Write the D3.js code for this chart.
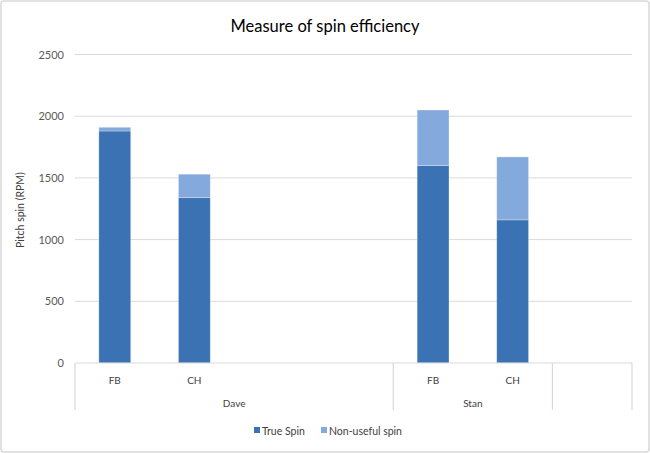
<!DOCTYPE html>
<html>
<head>
<meta charset="utf-8">
<script src="https://cdn.jsdelivr.net/npm/d3@7"></script>
<style>
  body { margin: 0; background: #fff; }
  text { font-family: Lato, "Open Sans", sans-serif; }
</style>
</head>
<body>
<div id="chart"></div>
<script>
// chart data
const slots = ["Dave FB", "Dave CH", "Dave gap1", "Dave gap2", "Stan FB", "Stan CH", "end gap"];
const pitchLabels = ["FB", "CH", "", "", "FB", "CH", ""];
const groupNames = ["Dave", "Stan", ""];
const groupSpans = [4, 2, 1];
const trueSpin = [1880, 1340, 0, 0, 1600, 1160, 0];
const nonUseful = [30, 190, 0, 0, 450, 510, 0];
const seriesNames = ["True Spin", "Non-useful spin"];
const yTicks = [0, 500, 1000, 1500, 2000, 2500];

const W = 650, H = 453;
const colors = ["#3a72b3", "#84a9dc"];

/**
 * setupSVG() puts an svg with a white background into the page
 */
function setupSVG(id, width, height) {
  const svg = d3.select(id).append("svg")
    .attr("width", width)
    .attr("height", height);
  svg.append("rect")
    .attr("x", 1).attr("y", 1)
    .attr("width", width - 2).attr("height", height - 2)
    .attr("rx", 3)
    .attr("fill", "#fff")
    .attr("stroke", "#d9d9d9")
    .attr("stroke-width", 1.5);
  return svg;
}

const svg = setupSVG("#chart", W, H);

const x = d3.scaleBand()
  .domain(slots)
  .range([75, 632])
  .paddingInner(0.6)
  .paddingOuter(0.3);

const y = d3.scaleLinear()
  .domain([0, 2500])
  .range([363, 54.5]);

// gridlines
svg.append("g")
  .selectAll("line")
  .data(yTicks.filter(d => d > 0))
  .enter().append("line")
  .attr("x1", 75).attr("x2", 632)
  .attr("y1", d => y(d)).attr("y2", d => y(d))
  .attr("stroke", "#d9d9d9")
  .attr("stroke-width", 1);

// y axis labels
const yAxis = svg.append("g")
  .attr("transform", "translate(75,0)")
  .call(d3.axisLeft(y).tickValues(yTicks).tickFormat(d3.format("d")).tickSize(0).tickPadding(11));
yAxis.select(".domain").remove();
yAxis.selectAll("text")
  .attr("font-family", "Lato, 'Open Sans', sans-serif")
  .attr("font-size", 11)
  .attr("fill", "#595959");

// stacked bars
const table = slots.map((s, i) => ({ slot: s, "True Spin": trueSpin[i], "Non-useful spin": nonUseful[i] }));
const stacked = d3.stack().keys(seriesNames)(table);

svg.append("g")
  .selectAll("g")
  .data(stacked)
  .enter().append("g")
  .attr("fill", (d, i) => colors[i])
  .selectAll("rect")
  .data(d => d.filter(p => p[1] > p[0]))
  .enter().append("rect")
  .attr("x", d => x(d.data.slot))
  .attr("width", x.bandwidth())
  .attr("y", d => y(d[1]))
  .attr("height", d => y(d[0]) - y(d[1]))
  .attr("stroke", "#ffffff")
  .attr("stroke-opacity", 0.35)
  .attr("stroke-width", 0.8);

// category axis, two levels
const axisG = svg.append("g");
axisG.append("line")
  .attr("x1", 75).attr("x2", 632)
  .attr("y1", y(0)).attr("y2", y(0))
  .attr("stroke", "#d9d9d9")
  .attr("stroke-width", 1.2);

axisG.selectAll("text.pitch")
  .data(slots)
  .enter().append("text")
  .attr("class", "pitch")
  .attr("x", d => x(d) + x.bandwidth() / 2)
  .attr("y", 384)
  .attr("text-anchor", "middle")
  .attr("font-size", 10)
  .attr("fill", "#404040")
  .text((d, i) => pitchLabels[i]);

const step = x.step();
const groupStarts = groupSpans.map((s, i) => d3.sum(groupSpans.slice(0, i)));
const bounds = [0].concat(groupStarts.map((g, i) => g + groupSpans[i]));

axisG.selectAll("line.sep")
  .data(bounds)
  .enter().append("line")
  .attr("class", "sep")
  .attr("x1", d => 75 + d * step).attr("x2", d => 75 + d * step)
  .attr("y1", y(0)).attr("y2", 410)
  .attr("stroke", "#d9d9d9")
  .attr("stroke-width", 1.2);

axisG.selectAll("text.group")
  .data(groupNames)
  .enter().append("text")
  .attr("class", "group")
  .attr("x", (d, i) => 75 + (groupStarts[i] + groupSpans[i] / 2) * step)
  .attr("y", 407)
  .attr("text-anchor", "middle")
  .attr("font-size", 10)
  .attr("fill", "#404040")
  .text(d => d);

// titles
svg.append("text")
  .attr("x", 325).attr("y", 32)
  .attr("text-anchor", "middle")
  .attr("font-size", 16.5)
  .attr("fill", "#000")
  .text("Measure of spin efficiency");

svg.append("text")
  .attr("transform", "translate(24,210) rotate(-90)")
  .attr("text-anchor", "middle")
  .attr("font-size", 10.5)
  .attr("fill", "#404040")
  .text("Pitch spin (RPM)");

// legend
const legendX = [254, 321];
const legend = svg.append("g")
  .selectAll("g")
  .data(seriesNames)
  .enter().append("g")
  .attr("transform", (d, i) => "translate(" + legendX[i] + ",431)");
legend.append("rect")
  .attr("x", 0).attr("y", -4)
  .attr("width", 6).attr("height", 6)
  .attr("fill", (d, i) => colors[i]);
legend.append("text")
  .attr("x", 8).attr("y", 3.5)
  .attr("font-size", 10.5)
  .attr("fill", "#404040")
  .text(d => d);
</script>
</body>
</html>
